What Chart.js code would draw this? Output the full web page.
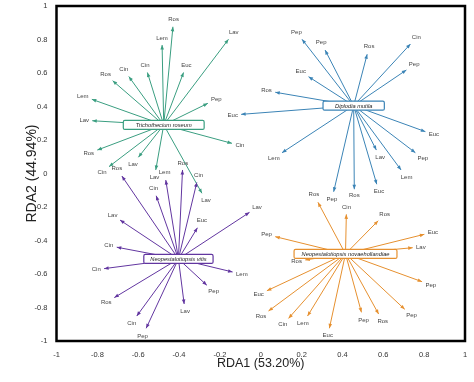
<!DOCTYPE html>
<html>
<head>
<meta charset="utf-8">
<style>
  html, body { margin: 0; padding: 0; background: #fff; }
  #wrap { width: 474px; height: 382px; }
</style>
<script src="https://cdn.jsdelivr.net/npm/chart.js@4.4.1/dist/chart.umd.min.js"></script>
</head>
<body>
<div id="wrap"><canvas id="rda" width="474" height="382"></canvas></div>
<script>
// fungal species, placed at the centre of each arrow fan
var speciesNames = ['Trichothecium roseum', 'Diplodia mutila', 'Neopestalotiopsis vitis', 'Neopestalotiopsis novaehollandiae'];
var centreX = [-0.475, 0.455, -0.403, 0.415];
var centreY = [0.29, 0.405, -0.51, -0.48];

// essential oil arrows (tips on RDA1 / RDA2)
var trichoOils = ['Ros', 'Lem', 'Lav', 'Cin', 'Cin', 'Euc', 'Ros', 'Lem', 'Pep', 'Lav', 'Cin', 'Ros', 'Cin', 'Lav', 'Lav', 'Lav'];
var trichoX = [-0.430, -0.483, -0.158, -0.555, -0.646, -0.378, -0.725, -0.827, -0.259, -0.825, -0.141, -0.800, -0.743, -0.599, -0.514, -0.288];
var trichoY = [0.876, 0.767, 0.801, 0.603, 0.579, 0.603, 0.554, 0.443, 0.419, 0.315, 0.180, 0.140, 0.041, 0.097, 0.021, -0.118];

var diploOils = ['Pep', 'Pep', 'Ros', 'Cin', 'Pep', 'Euc', 'Ros', 'Euc', 'Euc', 'Pep', 'Lem', 'Lav', 'Lem', 'Pep', 'Ros', 'Euc'];
var diploX = [0.202, 0.315, 0.521, 0.733, 0.713, 0.234, 0.071, -0.096, 0.806, 0.757, 0.104, 0.566, 0.687, 0.357, 0.458, 0.568];
var diploY = [0.801, 0.737, 0.712, 0.773, 0.618, 0.578, 0.485, 0.353, 0.250, 0.124, 0.124, 0.140, 0.021, -0.109, -0.094, -0.064];

var vitisOils = ['Ros', 'Lem', 'Cin', 'Cin', 'Ros', 'Lav', 'Euc', 'Lav', 'Cin', 'Cin', 'Lem', 'Pep', 'Ros', 'Lav', 'Cin', 'Pep'];
var vitisX = [-0.383, -0.465, -0.313, -0.512, -0.680, -0.689, -0.310, -0.055, -0.705, -0.767, -0.138, -0.264, -0.717, -0.375, -0.607, -0.561];
var vitisY = [0.021, -0.039, -0.053, -0.133, -0.015, -0.278, -0.324, -0.232, -0.440, -0.568, -0.588, -0.667, -0.741, -0.779, -0.851, -0.924];

var novaeOils = ['Ros', 'Cin', 'Ros', 'Pep', 'Euc', 'Lav', 'Ros', 'Pep', 'Euc', 'Ros', 'Cin', 'Lem', 'Euc', 'Pep', 'Ros', 'Pep'];
var novaeX = [0.280, 0.419, 0.575, 0.071, 0.801, 0.744, 0.218, 0.790, 0.030, 0.038, 0.136, 0.229, 0.336, 0.493, 0.577, 0.705];
var novaeY = [-0.172, -0.244, -0.282, -0.377, -0.363, -0.443, -0.516, -0.646, -0.700, -0.821, -0.865, -0.851, -0.924, -0.829, -0.839, -0.811];

var axisTitleX = 'RDA1 (53.20%)';
var axisTitleY = 'RDA2 (44.94%)';

var colours = ['#3a9e80', '#3b84b6', '#6236a0', '#e6902f'];
var boxPad = [12.5, 12, 6.5, 7.5];
var FONT = 'Arial, "Liberation Sans", sans-serif';

var groups = [
    { oils: trichoOils, x: trichoX, y: trichoY },
    { oils: diploOils, x: diploX, y: diploY },
    { oils: vitisOils, x: vitisX, y: vitisY },
    { oils: novaeOils, x: novaeX, y: novaeY }
];

// one dataset per species: centre -> tip, broken by a null point
function fanData(gi) {
    var g = groups[gi], pts = [];
    for (var i = 0; i < g.x.length; i++) {
        pts.push({ x: centreX[gi], y: centreY[gi] });
        pts.push({ x: g.x[i], y: g.y[i] });
        pts.push({ x: g.x[i], y: null });
    }
    return pts;
}

var datasets = speciesNames.map(function(name, gi) {
    return {
        label: name,
        data: fanData(gi),
        showLine: true,
        spanGaps: false,
        borderColor: colours[gi],
        borderWidth: 1,
        pointRadius: 0,
        pointHoverRadius: 0
    };
});

var arrowPlugin = {
    id: 'arrows',
    afterDatasetsDraw: function(chart) {
        var ctx = chart.ctx, xs = chart.scales.x, ys = chart.scales.y;
        ctx.save();
        groups.forEach(function(g, gi) {
            var cx = xs.getPixelForValue(centreX[gi]), cy = ys.getPixelForValue(centreY[gi]);
            g.x.forEach(function(v, i) {
                var tx = xs.getPixelForValue(v), ty = ys.getPixelForValue(g.y[i]);
                var dx = tx - cx, dy = ty - cy, len = Math.sqrt(dx * dx + dy * dy);
                var ux = dx / len, uy = dy / len;
                // arrow head
                ctx.fillStyle = colours[gi];
                ctx.beginPath();
                ctx.moveTo(tx, ty);
                ctx.lineTo(tx - ux * 4.5 - uy * 1.8, ty - uy * 4.5 + ux * 1.8);
                ctx.lineTo(tx - ux * 4.5 + uy * 1.8, ty - uy * 4.5 - ux * 1.8);
                ctx.closePath();
                ctx.fill();
                // oil label just past the tip
                ctx.font = '6px ' + FONT;
                var w = ctx.measureText(g.oils[i]).width;
                var off = 3 + Math.abs(ux) * w / 2 + Math.abs(uy) * 3.5;
                ctx.fillStyle = '#444';
                ctx.textAlign = 'center';
                ctx.textBaseline = 'middle';
                ctx.fillText(g.oils[i], tx + ux * off, ty + uy * off);
            });
        });
        // species name boxes on top of the fans
        speciesNames.forEach(function(name, gi) {
            var cx = xs.getPixelForValue(centreX[gi]), cy = ys.getPixelForValue(centreY[gi]);
            ctx.font = 'italic 5.7px ' + FONT;
            var w = ctx.measureText(name).width + boxPad[gi] * 2, h = 9;
            var x0 = cx - w / 2, y0 = cy - h / 2, r = 1.5;
            ctx.beginPath();
            ctx.moveTo(x0 + r, y0);
            ctx.arcTo(x0 + w, y0, x0 + w, y0 + h, r);
            ctx.arcTo(x0 + w, y0 + h, x0, y0 + h, r);
            ctx.arcTo(x0, y0 + h, x0, y0, r);
            ctx.arcTo(x0, y0, x0 + w, y0, r);
            ctx.closePath();
            ctx.fillStyle = '#fff';
            ctx.fill();
            ctx.lineWidth = 1.2;
            ctx.strokeStyle = colours[gi];
            ctx.stroke();
            ctx.fillStyle = '#222';
            ctx.textAlign = 'center';
            ctx.textBaseline = 'middle';
            ctx.fillText(name, cx, cy + 0.5);
        });
        ctx.restore();
    },
    afterDraw: function(chart) {
        var a = chart.chartArea, ctx = chart.ctx;
        ctx.save();
        ctx.lineWidth = 2.5;
        ctx.strokeStyle = '#000';
        ctx.strokeRect(a.left, a.top, a.right - a.left, a.bottom - a.top);
        ctx.restore();
    }
};

function tickText(v) {
    return String(Math.round(v * 10) / 10);
}

new Chart(document.getElementById('rda').getContext('2d'), {
    type: 'scatter',
    data: { datasets: datasets },
    options: {
        responsive: false,
        animation: false,
        devicePixelRatio: 1,
        layout: { padding: { left: 0, right: 9, top: 6, bottom: 0 } },
        plugins: {
            legend: { display: false },
            tooltip: { enabled: false }
        },
        scales: {
            x: {
                type: 'linear',
                min: -1,
                max: 1,
                afterFit: function(scale) {
                    scale.height = 41;
                    scale.paddingLeft = 0;
                    scale.paddingRight = 0;
                },
                grid: { display: false, drawTicks: false },
                border: { display: false },
                ticks: {
                    stepSize: 0.2,
                    padding: 9,
                    maxRotation: 0,
                    autoSkip: false,
                    color: '#333',
                    font: { family: FONT, size: 7.5 },
                    callback: tickText
                },
                title: {
                    display: true,
                    text: axisTitleX,
                    color: '#222',
                    font: { family: FONT, size: 12.5 },
                    padding: { top: 0, bottom: 11 }
                }
            },
            y: {
                type: 'linear',
                min: -1,
                max: 1,
                afterFit: function(scale) {
                    scale.width = 56.5;
                    scale.paddingTop = 0;
                    scale.paddingBottom = 0;
                },
                grid: { display: false, drawTicks: false },
                border: { display: false },
                ticks: {
                    stepSize: 0.2,
                    padding: 9,
                    autoSkip: false,
                    color: '#333',
                    font: { family: FONT, size: 7.5 },
                    callback: tickText
                },
                title: {
                    display: true,
                    text: axisTitleY,
                    color: '#222',
                    font: { family: FONT, size: 14 },
                    padding: { top: 23.6, bottom: 0 }
                }
            }
        }
    },
    plugins: [arrowPlugin]
});
</script>
</body>
</html>
